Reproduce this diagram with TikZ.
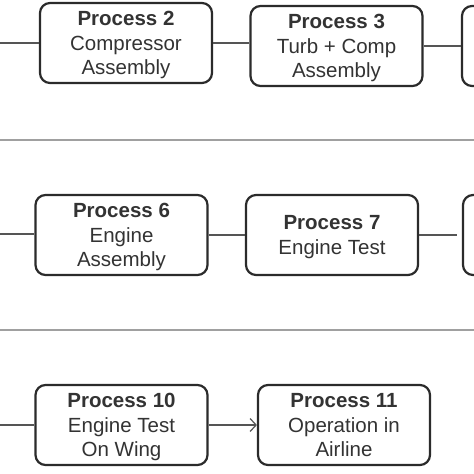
\documentclass[tikz,border=0pt]{standalone}
\usepackage{fontspec}
\setmainfont{Liberation Sans}
\usetikzlibrary{arrows.meta}
\definecolor{boxline}{HTML}{2B2B2B}
\definecolor{txt}{HTML}{333333}
\definecolor{conn}{HTML}{555555}
\definecolor{sep}{HTML}{A0A0A0}
\newcommand\lns{\rule[-5.1pt]{0pt}{24.5pt}}
\tikzset{
  pbox/.style={draw=boxline, line width=2.2pt, rounded corners=10pt, fill=white,
    minimum width=172pt, minimum height=80pt, inner sep=0pt, align=center,
    text=txt, font=\fontsize{20.5pt}{24.5pt}\selectfont},
  conn/.style={draw=conn, line width=1.2pt},
  sepline/.style={draw=sep, line width=1.8pt},
}
\begin{document}
\begin{tikzpicture}[x=1pt,y=-1pt]
\useasboundingbox (0,0) rectangle (474,474);
\clip (0,0) rectangle (474,474);
% separators
\coordinate (s1a) at (0,140); \coordinate (s1b) at (474,140);
\coordinate (s2a) at (0,330); \coordinate (s2b) at (474,330);
\draw[sepline] (s1a) -- (s1b);
\draw[sepline] (s2a) -- (s2b);
% row 1
\node[pbox] (p2) at (126,43) {\lns\textbf{Process 2}\\\lns Compressor\\\lns Assembly};
\node[pbox] (p3) at (336.5,46) {\lns\textbf{Process 3}\\\lns Turb + Comp\\\lns Assembly};
\node[pbox] (p4) at (548,46) {};
\coordinate (l1) at (0,43);
\draw[conn] (l1) -- (p2.west);
\draw[conn] (p2.east) -- (p2.east -| p3.west);
\draw[conn] (p3.east) -- (p4.west);
% row 2
\node[pbox] (p6) at (121.5,235) {\lns\textbf{Process 6}\\\lns Engine\\\lns Assembly};
\node[pbox] (p7) at (332,235) {\lns\textbf{Process 7}\\\lns Engine Test};
\node[pbox] (p8) at (549,235) {};
\coordinate (l2) at (0,234);
\draw[conn] (l2) -- (l2 -| p6.west);
\draw[conn] (p6.east) -- (p7.west);
\draw[conn, shorten >=5pt] (p7.east) -- (p8.west);
% row 3
\node[pbox] (p10) at (121.5,425) {\lns\textbf{Process 10}\\\lns Engine Test\\\lns On Wing};
\node[pbox] (p11) at (344,425) {\lns\textbf{Process 11}\\\lns Operation in\\\lns Airline};
\coordinate (l3) at (0,425);
\draw[conn] (l3) -- (p10.west);
\draw[conn, -{Straight Barb[length=6pt,width=13pt,line width=1.2pt]}] (p10.east) -- (p11.west);
\end{tikzpicture}
\end{document}
